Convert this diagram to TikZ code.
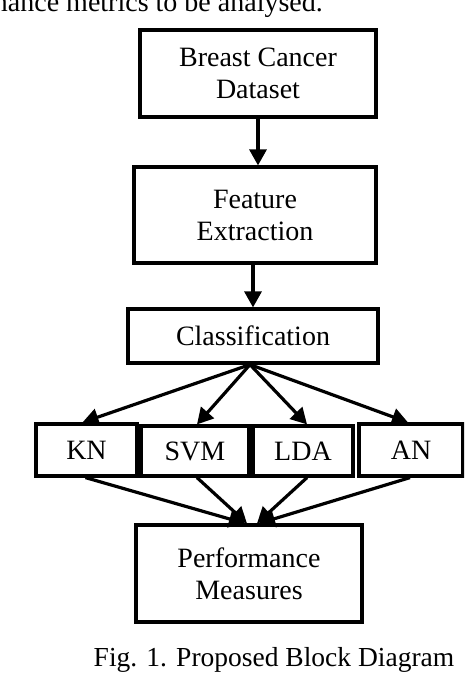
\documentclass[tikz,border=0pt]{standalone}
\usepackage{fontspec}
\setmainfont{Liberation Serif}
\usetikzlibrary{arrows.meta,calc}
\begin{document}
\begin{tikzpicture}[x=1pt,y=-1pt,
  box/.style={draw, line width=3.2pt, inner sep=0pt, align=center,
    font=\fontsize{28}{32}\selectfont},
  txt/.style={inner sep=0pt, font=\fontsize{28}{32}\selectfont},
  arr/.style={-{Triangle[length=16pt,width=17pt]}, line width=3.2pt}]
\useasboundingbox (0,0) rectangle (464,676);
\clip (0,0) rectangle (464,676);
\node[txt, anchor=base east] (top) at (323,12) {rmance metrics to be analysed.};
\node[box, minimum width=236pt, minimum height=87pt] (bcd) at (258,73.5) {Breast Cancer\\Dataset};
\node[box, minimum width=242pt, minimum height=96pt] (fe) at (255,215) {Feature\\Extraction};
\node[box, minimum width=250pt, minimum height=54pt] (cls) at (253,336) {Classification};
\node[box, minimum width=101pt, minimum height=52pt] (kn) at (86.5,450) {KN};
\node[box, minimum width=108pt, minimum height=50pt] (svm) at (195,451) {SVM};
\node[box, minimum width=100pt, minimum height=50pt] (lda) at (303,451) {LDA};
\node[box, minimum width=104pt, minimum height=52pt] (an) at (411,450) {AN};
\node[box, minimum width=226pt, minimum height=97pt] (pm) at (249,573.5) {Performance\\Measures};
\node[txt, anchor=base, font=\fontsize{27.5}{32}\selectfont] (cap) at (274,666) {Fig. 1. Proposed Block Diagram};
\draw[arr] (bcd.south) -- (bcd.south |- fe.north);
\draw[arr] ([xshift=-2pt]fe.south) -- ([xshift=-2pt]fe.south |- cls.north);
\draw[arr] ([xshift=-3pt]cls.south) -- ([xshift=-4pt]kn.north);
\draw[arr] ([xshift=-3pt]cls.south) -- ([xshift=2pt]svm.north);
\draw[arr] ([xshift=-3pt]cls.south) -- ([xshift=4pt]lda.north);
\draw[arr] ([xshift=-3pt]cls.south) -- ([xshift=-3pt]an.north);
\draw[arr] ([xshift=-1pt]kn.south) -- ([xshift=-4pt]pm.north);
\draw[arr] ([xshift=2pt]svm.south) -- ([xshift=-2pt]pm.north);
\draw[arr] ([xshift=4pt]lda.south) -- ([xshift=8pt]pm.north);
\draw[arr] ([xshift=-1pt]an.south) -- ([xshift=10pt]pm.north);
\end{tikzpicture}
\end{document}
